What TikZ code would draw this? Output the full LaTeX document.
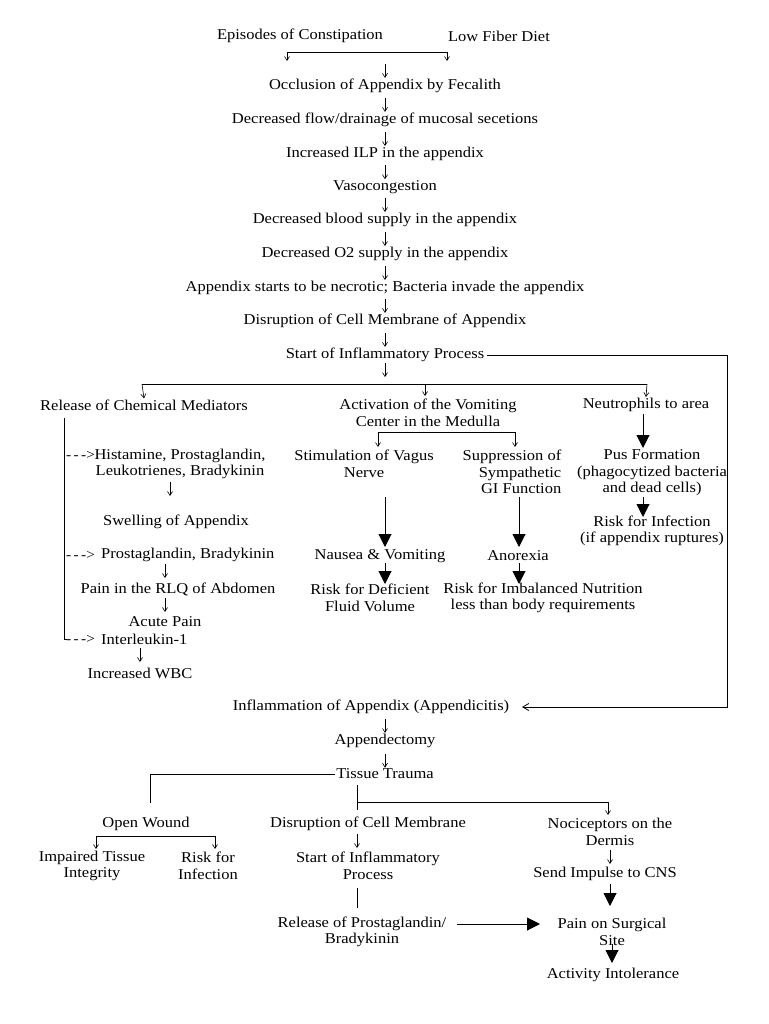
\documentclass[tikz,border=0pt]{standalone}
\usepackage{fontspec}
\setmainfont{Liberation Serif}[FakeStretch=1.1]
\usetikzlibrary{arrows.meta,calc}
\begin{document}
\begin{tikzpicture}[x=1pt,y=-1pt,
  t/.style={inner sep=1pt,align=center,font=\fontsize{15}{16.5}\selectfont},
  ln/.style={line width=0.8pt},
  sarr/.style={line width=0.6pt,-{Straight Barb[length=4pt,width=5pt]}},
  barr/.style={line width=1pt,-{Triangle[length=13pt,width=13pt]}},
  dsh/.style={inner sep=0pt,font=\fontsize{14}{16}\selectfont}]
\useasboundingbox (0,0) rectangle (768,1024);
% main chain
\node[t] (ep) at (300,36) {Episodes of Constipation};
\node[t] (lf) at (499,36) {Low Fiber Diet};
\node[t] (oc) at (385,86) {Occlusion of Appendix by Fecalith};
\node[t] (df) at (385,120) {Decreased flow/drainage of mucosal secetions};
\node[t] (il) at (385,154) {Increased ILP in the appendix};
\node[t] (vc) at (385,187) {Vasocongestion};
\node[t] (db) at (385,220) {Decreased blood supply in the appendix};
\node[t] (do) at (385,254) {Decreased O2 supply in the appendix};
\node[t] (ne) at (385,288) {Appendix starts to be necrotic; Bacteria invade the appendix};
\node[t] (dc) at (385,321) {Disruption of Cell Membrane of Appendix};
\node[t] (si) at (385,355) {Start of Inflammatory Process};
\coordinate (tl) at (287,52); \coordinate (tr) at (447,52);
\draw[ln] (tl) -- (tr);
\draw[sarr] (tl) -- +(0,9);
\draw[sarr] (tr) -- +(0,9);
\foreach \a/\b in {ep/oc,oc/df,df/il,il/vc,vc/db,db/do,do/ne,ne/dc,dc/si}
  \draw[sarr] ($(\b.north)+(0,-14)$) -- (\b.north);
% three branches
\node[t] (rc) at (144,405) {Release of Chemical Mediators};
\node[t] (av) at (428,413) {Activation of the Vomiting\\Center in the Medulla};
\node[t] (nt) at (646,405) {Neutrophils to area};
\draw[sarr] (si.south) -- +(0,14);
\draw[ln] (142,384) -- (647,384);
\draw[sarr] (142,384) -- (rc.north);
\draw[sarr] (425,384) -- (425,396);
\draw[sarr] (647,384) -- (nt.north);
% vomiting branch
\node[t] (sv) at (364,464) {Stimulation of Vagus\\Nerve};
\node[t,align=right] (sp) at (512,472) {Suppression of\\Sympathetic\\GI Function};
\draw[ln] (378,432) -- (515,432);
\draw[sarr] (378,432) -- (378,447);
\draw[sarr] (515,432) -- (515,447);
\node[t] (nv) at (380,556) {Nausea \& Vomiting};
\node[t] (rd) at (370,598) {Risk for Deficient\\Fluid Volume};
\node[t] (an) at (518,556) {Anorexia};
\node[t] (ri) at (543,598) {Risk for Imbalanced Nutrition\\less than body requirements};
\draw[barr] (385,497) -- (385,547);
\draw[barr] (385,563) -- (385,584);
\draw[barr] (519,497) -- (519,547);
\draw[barr] (519,563) -- (519,584);
% neutrophils
\node[t] (pf) at (652,473) {Pus Formation\\(phagocytized bacteria\\and dead cells)};
\node[t] (rf) at (652,531) {Risk for Infection\\(if appendix ruptures)};
\draw[barr] (643,414) -- (643,448);
\draw[barr] (643,497) -- (643,517);
% chemical mediators
\draw[ln] (64,418) -- (64,639) -- (67,639);
\node[dsh,anchor=west] (d1) at (66,455) {-\,-\,->};
\node[dsh,anchor=west] (d2) at (66,555) {-\,-\,->};
\node[dsh,anchor=west] (d3) at (66,639) {-\,-\,->};
\node[t] (hp) at (180,464) {Histamine, Prostaglandin,\\Leukotrienes, Bradykinin};
\node[t] (sw) at (176,522) {Swelling of Appendix};
\node[t,anchor=west] (pb) at (100,555) {Prostaglandin, Bradykinin};
\node[t] (pr) at (178,589) {Pain in the RLQ of Abdomen};
\node[t] (ap) at (165,622) {Acute Pain};
\node[t,anchor=west] (in) at (100,639) {Interleukin-1};
\node[t] (wb) at (140,673) {Increased WBC};
\draw[sarr] (170,482) -- (170,496);
\draw[sarr] (165,564) -- (165,578);
\draw[sarr] (165,598) -- (165,612);
\draw[sarr] (140,648) -- (140,662);
% feedback
\node[t] (ia) at (371,707) {Inflammation of Appendix (Appendicitis)};
\draw[ln,-{Straight Barb[length=6pt,width=7pt]}] (487,355) -- (727,355) -- (727,707) -- (522,707);
\node[t] (ae) at (385,741) {Appendectomy};
\node[t] (tt) at (385,774) {Tissue Trauma};
\draw[sarr] ($(ae.north)+(0,-14)$) -- (ae.north);
\draw[sarr] ($(tt.north)+(0,-14)$) -- (tt.north);
% bottom
\node[t] (ow) at (146,824) {Open Wound};
\node[t] (it) at (92,866) {Impaired Tissue\\Integrity};
\node[t] (rn) at (208,866) {Risk for\\Infection};
\node[t] (dm) at (368,824) {Disruption of Cell Membrane};
\node[t] (sp2) at (368,866) {Start of Inflammatory\\Process};
\node[t] (rp) at (362,932) {Release of Prostaglandin/\\Bradykinin};
\node[t] (nc) at (610,832) {Nociceptors on the\\Dermis};
\node[t] (sc) at (605,874) {Send Impulse to CNS};
\node[t] (ps) at (612,932) {Pain on Surgical\\Site};
\node[t] (ai) at (613,975) {Activity Intolerance};
\draw[ln] (tt.west) -- (150,774) -- (150,803);
\draw[ln] (357,785) -- (357,810);
\draw[ln] (357,802) -- (608,802);
\draw[sarr] (608,802) -- (608,815);
\draw[ln] (96,836) -- (215,836);
\draw[sarr] (96,836) -- (96,849);
\draw[sarr] (215,836) -- (215,849);
\draw[sarr] (357,834) -- (357,848);
\draw[ln] (357,888) -- (357,908);
\draw[sarr] (610,850) -- (610,864);
\draw[barr] (457,924) -- (540,924);
\draw[barr] (610,884) -- (610,906);
\draw[barr] (612,944) -- (612,963);
\end{tikzpicture}
\end{document}
